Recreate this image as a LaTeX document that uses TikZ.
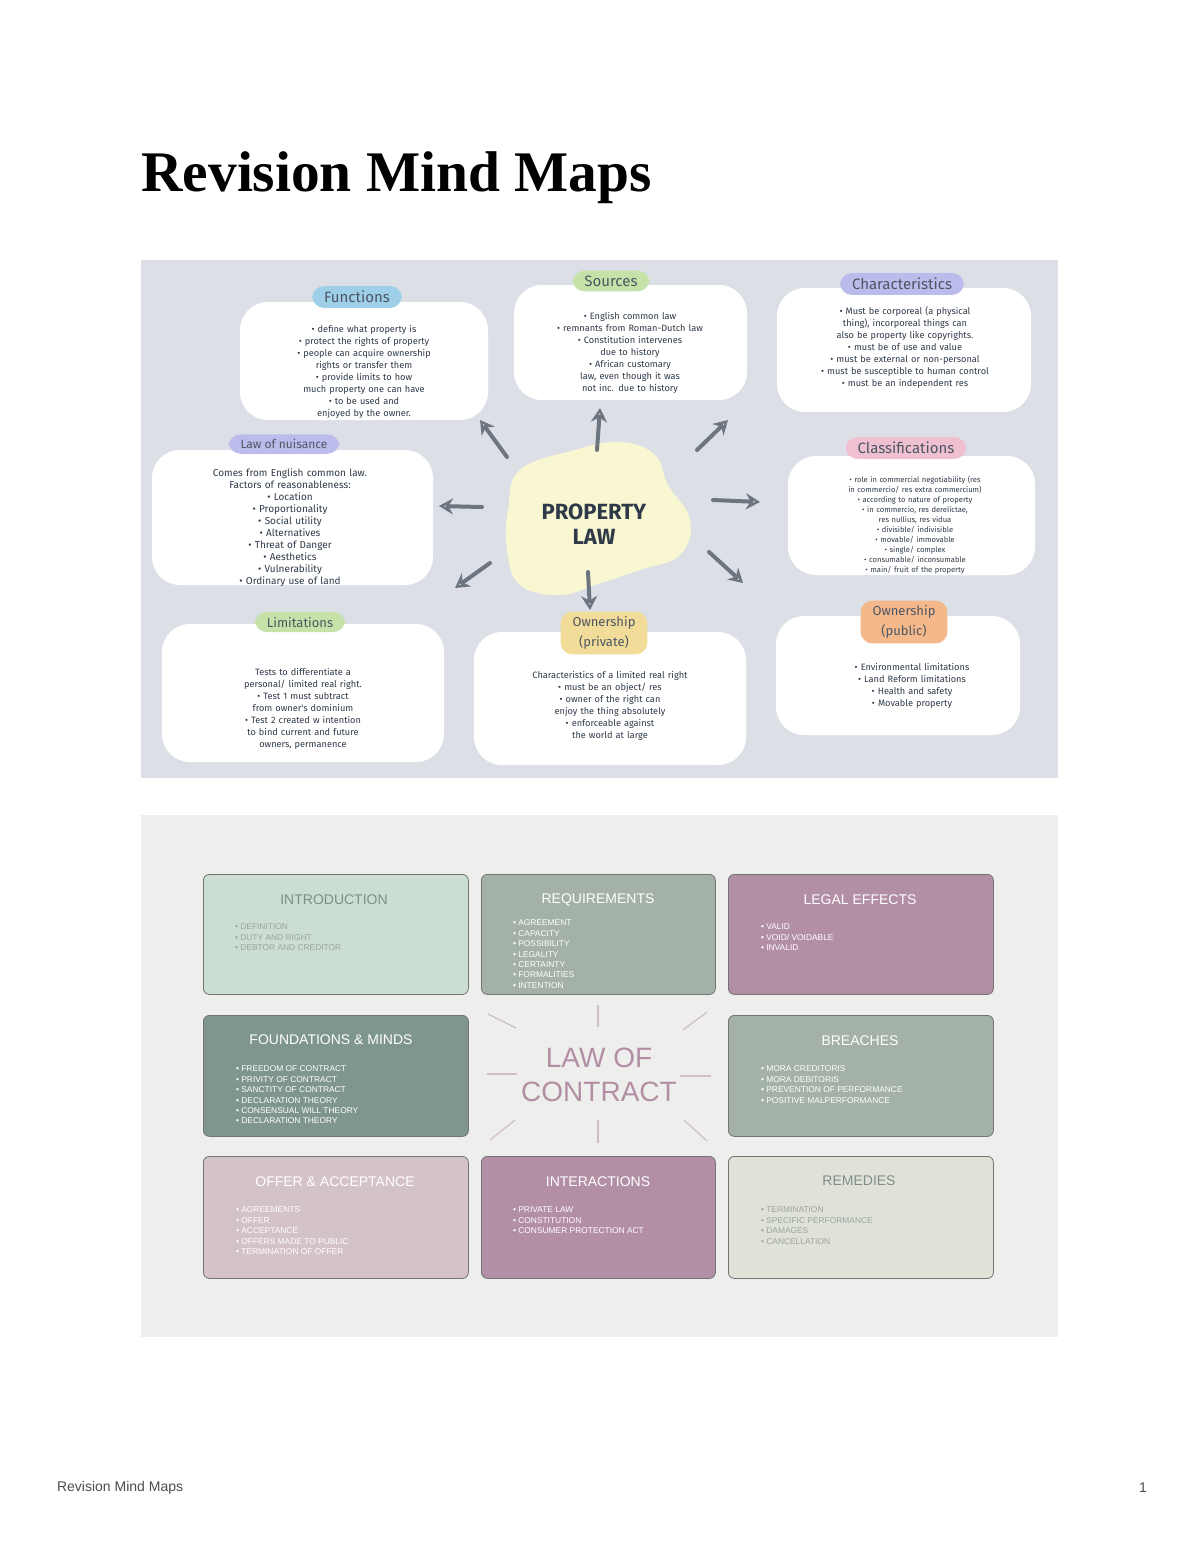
\documentclass[tikz,border=0pt]{standalone}
\usepackage{fontspec}
\setmainfont{Liberation Sans}
\newfontfamily\titlefont{Liberation Serif}
\newfontfamily\hand{Fira Sans}
\usetikzlibrary{arrows.meta}
\definecolor{bgtop}{HTML}{DCE0E6}
\definecolor{bgbot}{HTML}{EEEEEC}
\definecolor{pblue}{HTML}{9FCFE8}
\definecolor{pgreen}{HTML}{C7E2A8}
\definecolor{plav}{HTML}{BBBBEC}
\definecolor{ppink}{HTML}{EEC0D0}
\definecolor{pyel}{HTML}{F2DC9A}
\definecolor{porange}{HTML}{F4B88A}
\definecolor{blob}{HTML}{F8F7D2}
\definecolor{ink}{HTML}{2E3A48}
\definecolor{arr}{HTML}{6D7580}
\definecolor{cintro}{HTML}{CCDDD2}
\definecolor{creq}{HTML}{A3B1A8}
\definecolor{cleg}{HTML}{B38FA5}
\definecolor{cfound}{HTML}{7F9690}
\definecolor{coffer}{HTML}{D4C2CA}
\definecolor{crem}{HTML}{E0E2D8}
\definecolor{tgray}{HTML}{7E8F8A}
\tikzset{
 card/.style={fill=white,draw=none,rounded corners=14pt},
 pill/.style={fill=#1,rounded corners=6pt,inner xsep=6pt,inner ysep=2.5pt,font=\hand\fontsize{7.5}{9}\selectfont,text=ink!85,align=center},
 body/.style={font=\hand\fontsize{4.6}{6}\selectfont,execute at begin node={\hyphenpenalty=10000\relax},text=ink,align=center,text width=#1},
 marrow/.style={draw=arr,line width=2pt,-{Stealth[length=7pt,width=8pt,open]},line cap=round},
 cbox/.style={fill=#1,draw=black!55,line width=0.4pt,rounded corners=3pt},
 ctitle/.style={font=\fontsize{7}{8}\selectfont,text=white},
 citems/.style={font=\fontsize{4.2}{5.2}\selectfont,text=white,align=left,anchor=north west},
 ray/.style={draw=cleg!60,line width=0.6pt}
}
\begin{document}
\begin{tikzpicture}[x=0.5pt,y=-0.5pt]
\useasboundingbox (0,0) rectangle (1200,1553);
\fill[white] (0,0) rectangle (1200,1553);
\node[anchor=west,font=\titlefont\bfseries\fontsize{28.7}{31}\selectfont,inner sep=0pt] (title) at (141,178) {Revision Mind Maps};
% ---------- top map
\fill[bgtop] (141,260) rectangle (1058,778);
\fill[card] (240,302) rectangle (488,420);
\fill[card] (514,285) rectangle (747,400);
\fill[card] (777,288) rectangle (1031,412);
\fill[card] (152,450) rectangle (433,585);
\fill[card] (788,456) rectangle (1035,575);
\fill[card] (162,624) rectangle (444,762);
\fill[card] (474,632) rectangle (746,765);
\fill[card] (776,616) rectangle (1020,735);
\node[pill=pblue] (pf) at (357,297) {Functions};
\node[pill=pgreen] (ps) at (611,281) {Sources};
\node[pill=plav] (pc) at (902,284) {Characteristics};
\node[pill=plav,font=\hand\fontsize{6}{7}\selectfont] (pn) at (284,444) {Law of nuisance};
\node[pill=ppink] (pcl) at (906,448) {Classifications};
\node[pill=pgreen,font=\hand\fontsize{6.5}{8}\selectfont] (pl) at (300,622) {Limitations};
\node[pill=pyel,font=\hand\fontsize{6.5}{10}\selectfont] (po) at (604,633) {Ownership\\(private)};
\node[pill=porange,font=\hand\fontsize{6.5}{10}\selectfont] (pp) at (904,622) {Ownership\\(public)};
\node[body=80pt,anchor=north] (tf) at (364,318) {\textbullet\ define what property is\\ \textbullet\ protect the rights of property\\ \textbullet\ people can acquire ownership rights or transfer them\\ \textbullet\ provide limits to how much property one can have\\ \textbullet\ to be used and enjoyed by the owner.};
\node[body=78pt,anchor=north] (ts) at (630,305) {\textbullet\ English common law\\ \textbullet\ remnants from Roman-Dutch law\\ \textbullet\ Constitution intervenes due to history\\ \textbullet\ African customary law, even though it was not inc. due to history};
\node[body=85pt,anchor=north] (tc) at (905,300) {\textbullet\ Must be corporeal (a physical thing), incorporeal things can also be property like copyrights.\\ \textbullet\ must be of use and value\\ \textbullet\ must be external or non-personal\\ \textbullet\ must be susceptible to human control\\ \textbullet\ must be an independent res};
\node[body=95pt,anchor=north,font=\hand\fontsize{5}{6}\selectfont] (tn) at (290,462) {Comes from English common law.\\ Factors of reasonableness:\\ \textbullet\ Location\\ \textbullet\ Proportionality\\ \textbullet\ Social utility\\ \textbullet\ Alternatives\\ \textbullet\ Threat of Danger\\ \textbullet\ Aesthetics\\ \textbullet\ Vulnerability\\ \textbullet\ Ordinary use of land};
\node[body=90pt,anchor=north,font=\hand\fontsize{3.8}{5}\selectfont] (tcl) at (915,469) {\textbullet\ role in commercial negotiability (res in commercio/ res extra commercium)\\ \textbullet\ according to nature of property\\ \textbullet\ in commercio, res derelictae, res nullius, res vidua\\ \textbullet\ divisible/ indivisible\\ \textbullet\ movable/ immovable\\ \textbullet\ single/ complex\\ \textbullet\ consumable/ inconsumable\\ \textbullet\ main/ fruit of the property};
\node[body=80pt,anchor=north] (tl) at (303,661) {Tests to differentiate a personal/ limited real right.\\ \textbullet\ Test 1 must subtract from owner's dominium\\ \textbullet\ Test 2 created w intention to bind current and future owners, permanence};
\node[body=80pt,anchor=north] (to) at (610,664) {Characteristics of a limited real right\\ \textbullet\ must be an object/ res\\ \textbullet\ owner of the right can enjoy the thing absolutely\\ \textbullet\ enforceable against the world at large};
\node[body=80pt,anchor=north] (tp) at (912,656) {\textbullet\ Environmental limitations\\ \textbullet\ Land Reform limitations\\ \textbullet\ Health and safety\\ \textbullet\ Movable property};
\fill[blob] plot[smooth cycle,tension=0.7] coordinates {(520,470) (575,450) (620,442) (655,455) (668,485) (690,520) (680,555) (640,570) (595,585) (560,595) (520,585) (507,550) (508,510)};
\node[font=\hand\bfseries\fontsize{11}{12.5}\selectfont,text=ink,align=center] (center) at (594,524) {PROPERTY\\LAW};
\coordinate (a1) at (507,457); \coordinate (b1) at (480,420);
\coordinate (a2) at (597,450); \coordinate (b2) at (600,408);
\coordinate (a3) at (697,450); \coordinate (b3) at (728,420);
\coordinate (a4) at (482,507); \coordinate (b4) at (439,506);
\coordinate (a5) at (713,500); \coordinate (b5) at (760,502);
\coordinate (a6) at (490,563); \coordinate (b6) at (455,588);
\coordinate (a7) at (588,572); \coordinate (b7) at (590,610);
\coordinate (a8) at (709,552); \coordinate (b8) at (743,583);
\foreach \i in {1,...,8} \draw[marrow] (a\i) -- (b\i);
% ---------- bottom map
\fill[bgbot] (141,815) rectangle (1058,1337);
\node[cbox=cintro,minimum width=132.5pt,minimum height=60pt,anchor=north west] (bi) at (203,874) {};
\node[cbox=creq,minimum width=117pt,minimum height=60pt,anchor=north west] (br) at (481,874) {};
\node[cbox=cleg,minimum width=132.5pt,minimum height=60pt,anchor=north west] (bl) at (728,874) {};
\node[cbox=cfound,minimum width=132.5pt,minimum height=60.5pt,anchor=north west] (bf) at (203,1015) {};
\node[cbox=creq,minimum width=132.5pt,minimum height=60.5pt,anchor=north west] (bb) at (728,1015) {};
\node[cbox=coffer,minimum width=132.5pt,minimum height=61pt,anchor=north west] (bo) at (203,1156) {};
\node[cbox=cleg,minimum width=117pt,minimum height=61pt,anchor=north west] (bx) at (481,1156) {};
\node[cbox=crem,minimum width=132.5pt,minimum height=61pt,anchor=north west] (bm) at (728,1156) {};
\node[ctitle,text=tgray] at (334,900) {INTRODUCTION};
\node[ctitle] at (598,900) {REQUIREMENTS};
\node[ctitle] at (860,900) {LEGAL EFFECTS};
\node[ctitle] at (331,1040) {FOUNDATIONS \& MINDS};
\node[ctitle] at (860,1041) {BREACHES};
\node[ctitle] at (335,1182) {OFFER \& ACCEPTANCE};
\node[ctitle] at (598,1182) {INTERACTIONS};
\node[ctitle,text=tgray] at (859,1181) {REMEDIES};
\node[citems,text=tgray!80] at (228,917) {• DEFINITION\\• DUTY AND RIGHT\\• DEBTOR AND CREDITOR};
\node[citems] at (506,913) {• AGREEMENT\\• CAPACITY\\• POSSIBILITY\\• LEGALITY\\• CERTAINTY\\• FORMALITIES\\• INTENTION};
\node[citems] at (754,917) {• VALID\\• VOID/ VOIDABLE\\• INVALID};
\node[citems] at (229,1059) {• FREEDOM OF CONTRACT\\• PRIVITY OF CONTRACT\\• SANCTITY OF CONTRACT\\• DECLARATION THEORY\\• CONSENSUAL WILL THEORY\\• DECLARATION THEORY};
\node[citems] at (754,1059) {• MORA CREDITORIS\\• MORA DEBITORIS\\• PREVENTION OF PERFORMANCE\\• POSITIVE MALPERFORMANCE};
\node[citems] at (229,1200) {• AGREEMENTS\\• OFFER\\• ACCEPTANCE\\• OFFERS MADE TO PUBLIC\\• TERMINATION OF OFFER};
\node[citems] at (506,1200) {• PRIVATE LAW\\• CONSTITUTION\\• CONSUMER PROTECTION ACT};
\node[citems,text=tgray!80] at (754,1200) {• TERMINATION\\• SPECIFIC PERFORMANCE\\• DAMAGES\\• CANCELLATION};
\node[font=\fontsize{14}{17}\selectfont,text=cleg,align=center] (lc) at (599,1075) {LAW OF\\CONTRACT};
\draw[ray] (488,1014) -- (516,1028);
\draw[ray] (598,1005) -- (598,1027);
\draw[ray] (683,1030) -- (707,1012);
\draw[ray] (487,1074) -- (517,1074);
\draw[ray] (680,1076) -- (711,1076);
\draw[ray] (490,1140) -- (515,1120);
\draw[ray] (598,1120) -- (598,1143);
\draw[ray] (684,1120) -- (707,1141);
% ---------- footer
\node[anchor=west,font=\fontsize{7}{9}\selectfont,text=black!70] (ft) at (50,1488) {Revision Mind Maps};
\node[font=\fontsize{7}{9}\selectfont,text=black!70] (pg) at (1143,1488) {1};
\end{tikzpicture}
\end{document}
